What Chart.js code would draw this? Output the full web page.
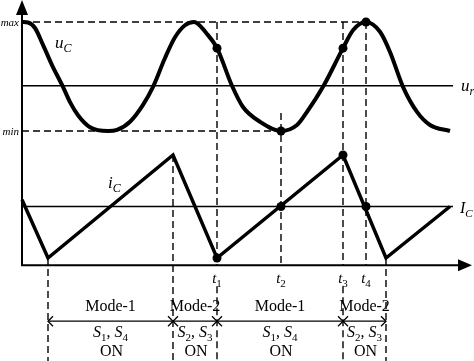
<!DOCTYPE html>
<html lang="en">
<head>
<meta charset="UTF-8">
<title>Modos de operación</title>
<script src="https://cdn.jsdelivr.net/npm/chart.js"></script>
<style>
    body { margin: 0; background: #fff; }
    #wrap { width: 474px; height: 361px; }
</style>
</head>
<body>
<div id="wrap"><canvas id="grafica"></canvas></div>
<script>
    // u_C, normalizado: max = 1, min = -1 (tiempo en unidades arbitrarias)
    const uTime = [0, 6, 13, 21, 30, 41, 48, 56, 68, 86, 95, 108, 121, 131, 143, 153, 163, 172,
                   185, 195, 210, 221, 238, 259, 275, 285, 301, 321, 331, 344, 358, 368, 381, 395, 408, 428];
    const uVal  = [1.0, 0.99, 0.89, 0.58, 0.21, -0.19, -0.47, -0.71, -0.93, -1.0, -0.98, -0.83, -0.52, -0.19, 0.34, 0.72, 0.94, 1.0,
                   0.78, 0.52, -0.17, -0.56, -0.83, -1.0, -0.89, -0.65, -0.19, 0.52, 0.85, 1.0, 0.82, 0.45, -0.19, -0.65, -0.89, -1.0];
    const uRef = -0.17;          // u_r

    // i_C, normalizado: pico = 1, valle = -1, I_C = 0
    const iTime = [0, 26, 151, 195, 321, 364, 428];
    const iVal  = [0.13, -1, 1, -1, 1, -1, 0];
    const iRef = 0;              // I_C
    const refEnd = 431;

    // instantes t1..t4
    const markTimes = [195, 259, 321, 344];
    const markNames = ['1', '2', '3', '4'];
    const uAtMarks = [0.52, -1, 0.52, 1];
    const iAtMarks = [-1, 0, 1, 0];

    // modos
    const modeBounds = [26, 151, 195, 321, 364];
    const modeNames = ['Mode-1', 'Mode-2', 'Mode-1', 'Mode-2'];
    const modeSwitches = [['1', '4'], ['2', '3'], ['1', '4'], ['2', '3']];

    const W = 474, H = 361;
    const F = 'Liberation Serif';
    const iAxis = -1.14;         // nivel del eje de tiempo

    // min/max de un eje para que vTop caiga en pTop y vBot en pBot
    function rango(vTop, pTop, vBot, pBot) {
        const k = (vTop - vBot) / (pBot - pTop);
        return { max: vTop + pTop * k, min: vBot - (H - pBot) * k };
    }
    const rU = rango(1, 22, -1, 131);
    const rI = rango(1, 155, -1, 258);

    function pts(xs, ys) { return xs.map((t, k) => ({ x: t, y: ys[k] })); }

    function drawRuns(ctx, parts, x, y, align, size) {
        const fontOf = k => k === 'i' ? `italic ${size}px ${F}` :
                            k === 'n' ? `${size}px ${F}` :
                            k === 'si' ? `italic ${Math.round(size * 0.7)}px ${F}` :
                            `${Math.round(size * 0.7)}px ${F}`;
        const widths = [];
        let total = 0;
        parts.forEach(p => { ctx.font = fontOf(p[1]); const w = ctx.measureText(p[0]).width; widths.push(w); total += w; });
        let cx = align === 'center' ? x - total / 2 : align === 'right' ? x - total : x;
        ctx.textAlign = 'left';
        ctx.textBaseline = 'alphabetic';
        parts.forEach((p, k) => {
            ctx.font = fontOf(p[1]);
            const dy = (p[1] === 's' || p[1] === 'si') ? size * 0.25 : 0;
            ctx.fillText(p[0], cx, y + dy);
            cx += widths[k];
        });
    }

    function dashed(ctx, x1, y1, x2, y2) {
        ctx.save();
        ctx.setLineDash([7, 4]);
        ctx.lineWidth = 1.4;
        ctx.beginPath(); ctx.moveTo(x1, y1); ctx.lineTo(x2, y2); ctx.stroke();
        ctx.restore();
    }

    function chevron(ctx, x, y, dir) {
        ctx.beginPath();
        ctx.moveTo(x - dir * 5, y - 5); ctx.lineTo(x, y); ctx.lineTo(x - dir * 5, y + 5);
        ctx.stroke();
    }

    const guias = {
        id: 'guias',
        beforeDatasetsDraw(chart) {
            const ctx = chart.ctx;
            const sx = chart.scales.x, su = chart.scales.yU, si = chart.scales.yI;
            const tx = v => sx.getPixelForValue(v);
            const axisPx = si.getPixelForValue(iAxis);
            ctx.save();
            ctx.strokeStyle = '#000';
            ctx.fillStyle = '#000';

            // horizontales discontinuas max / min
            dashed(ctx, tx(0), su.getPixelForValue(1), tx(markTimes[3]), su.getPixelForValue(1));
            dashed(ctx, tx(0), su.getPixelForValue(-1), tx(markTimes[1]), su.getPixelForValue(-1));

            // verticales de t1..t4
            dashed(ctx, tx(markTimes[0]), su.getPixelForValue(1), tx(markTimes[0]), axisPx);
            dashed(ctx, tx(markTimes[1]), su.getPixelForValue(-1) - 18, tx(markTimes[1]), axisPx);
            dashed(ctx, tx(markTimes[2]), su.getPixelForValue(1), tx(markTimes[2]), axisPx);
            dashed(ctx, tx(markTimes[3]), su.getPixelForValue(1), tx(markTimes[3]), axisPx);
            dashed(ctx, tx(markTimes[0]), axisPx + 21, tx(markTimes[0]), H);
            dashed(ctx, tx(markTimes[2]), axisPx + 21, tx(markTimes[2]), H);

            // verticales de los límites de modo
            dashed(ctx, tx(modeBounds[0]), si.getPixelForValue(-1), tx(modeBounds[0]), H);
            dashed(ctx, tx(modeBounds[1]), si.getPixelForValue(1), tx(modeBounds[1]), H);
            dashed(ctx, tx(modeBounds[4]), si.getPixelForValue(-1), tx(modeBounds[4]), H);

            // ejes con flechas
            ctx.lineWidth = 2;
            ctx.beginPath();
            ctx.moveTo(tx(0), 10); ctx.lineTo(tx(0), axisPx); ctx.lineTo(W - 10, axisPx);
            ctx.stroke();
            ctx.beginPath();
            ctx.moveTo(tx(0), 0); ctx.lineTo(tx(0) - 6, 15); ctx.lineTo(tx(0) + 6, 15); ctx.closePath();
            ctx.fill();
            ctx.beginPath();
            ctx.moveTo(W - 2, axisPx); ctx.lineTo(W - 16, axisPx - 6); ctx.lineTo(W - 16, axisPx + 6); ctx.closePath();
            ctx.fill();

            // fila de modos
            const rowY = axisPx + 56;
            ctx.lineWidth = 1.3;
            ctx.beginPath();
            ctx.moveTo(tx(modeBounds[0]), rowY); ctx.lineTo(tx(modeBounds[4]), rowY);
            ctx.stroke();
            modeBounds.forEach((b, k) => {
                if (k > 0) chevron(ctx, tx(b), rowY, 1);
                if (k < modeBounds.length - 1) chevron(ctx, tx(b), rowY, -1);
            });
            ctx.restore();
        },
        afterDatasetsDraw(chart) {
            const ctx = chart.ctx;
            const sx = chart.scales.x, su = chart.scales.yU, si = chart.scales.yI;
            const tx = v => sx.getPixelForValue(v);
            const axisPx = si.getPixelForValue(iAxis);
            ctx.save();
            ctx.fillStyle = '#000';

            drawRuns(ctx, [['max', 'i']], tx(0) - 3, su.getPixelForValue(1) + 4, 'right', 11);
            drawRuns(ctx, [['min', 'i']], tx(0) - 3, su.getPixelForValue(-1) + 4, 'right', 11);
            drawRuns(ctx, [['u', 'i'], ['C', 'si']], 55, 48, 'left', 17);
            drawRuns(ctx, [['i', 'i'], ['C', 'si']], 108, 188, 'left', 17);
            drawRuns(ctx, [['u', 'i'], ['r', 'si']], tx(refEnd) + 8, su.getPixelForValue(uRef) + 5, 'left', 17);
            drawRuns(ctx, [['I', 'i'], ['C', 'si']], tx(refEnd) + 7, si.getPixelForValue(iRef) + 6, 'left', 16);

            markTimes.forEach((t, k) => {
                drawRuns(ctx, [['t', 'i'], [markNames[k], 's']], tx(t), axisPx + 18, 'center', 15);
            });

            modeNames.forEach((m, k) => {
                const cx = tx((modeBounds[k] + modeBounds[k + 1]) / 2);
                const s = modeSwitches[k];
                drawRuns(ctx, [[m, 'n']], cx, axisPx + 46, 'center', 16);
                drawRuns(ctx, [['S', 'i'], [s[0], 's'], [', ', 'n'], ['S', 'i'], [s[1], 's']], cx, axisPx + 72, 'center', 16);
                drawRuns(ctx, [['ON', 'n']], cx + 1, axisPx + 91, 'center', 16);
            });
            ctx.restore();
        }
    };

    const ctx = document.getElementById('grafica').getContext('2d');
    const grafica = new Chart(ctx, {
        type: 'line',
        data: {
            datasets: [
                { label: 'u_C marcas', data: pts(markTimes, uAtMarks), yAxisID: 'yU', showLine: false,
                  pointRadius: 4.5, pointBackgroundColor: '#000', pointBorderWidth: 0, order: 0 },
                { label: 'i_C marcas', data: pts(markTimes, iAtMarks), yAxisID: 'yI', showLine: false,
                  pointRadius: 4.5, pointBackgroundColor: '#000', pointBorderWidth: 0, order: 0 },
                { label: 'u_C', data: pts(uTime, uVal), yAxisID: 'yU', borderColor: '#000', borderWidth: 4,
                  pointRadius: 0, cubicInterpolationMode: 'monotone', fill: false, order: 1 },
                { label: 'i_C', data: pts(iTime, iVal), yAxisID: 'yI', borderColor: '#000', borderWidth: 3.5,
                  pointRadius: 0, tension: 0, borderJoinStyle: 'miter', fill: false, order: 1 },
                { label: 'u_r', data: pts([0, refEnd], [uRef, uRef]), yAxisID: 'yU', borderColor: '#000',
                  borderWidth: 1.5, pointRadius: 0, order: 2 },
                { label: 'I_C', data: pts([0, refEnd], [iRef, iRef]), yAxisID: 'yI', borderColor: '#000',
                  borderWidth: 1.5, pointRadius: 0, order: 2 }
            ]
        },
        options: {
            animation: false,
            responsive: true,
            maintainAspectRatio: false,
            events: [],
            layout: { padding: 0, autoPadding: false },
            plugins: { legend: { display: false }, tooltip: { enabled: false } },
            scales: {
                x: { type: 'linear', display: false, min: -22, max: W - 22 },
                yU: { type: 'linear', display: false, min: rU.min, max: rU.max },
                yI: { type: 'linear', display: false, min: rI.min, max: rI.max }
            }
        },
        plugins: [guias]
    });
</script>
</body>
</html>
